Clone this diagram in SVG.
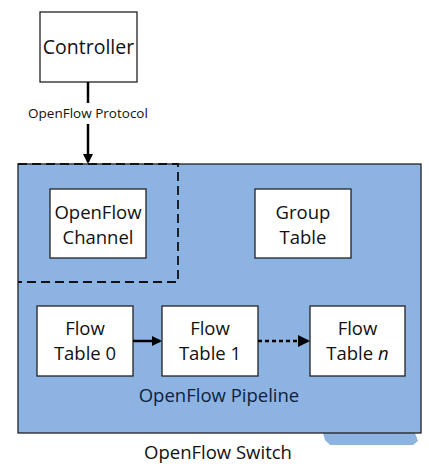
<svg xmlns="http://www.w3.org/2000/svg" width="429" height="466" viewBox="0 0 429 466">
<style>
.box{fill:#fff;stroke:#222;stroke-width:1.3}
.t{font-family:"Open Sans","Liberation Sans",sans-serif;font-size:18.5px;fill:#111;text-anchor:middle}
.conn{stroke:#000;stroke-width:2.5;fill:none}
</style>
<defs>
<marker id="ah" markerWidth="10" markerHeight="10" refX="8" refY="5" orient="auto" markerUnits="userSpaceOnUse">
<path d="M0,0 L10,5 L0,10 Z" fill="#000"/>
</marker>
<marker id="ahd" markerWidth="12" markerHeight="12" refX="10" refY="6" orient="auto" markerUnits="userSpaceOnUse">
<path d="M0,0 L12,6 L0,12 Z" fill="#000"/>
</marker>
</defs>
<g id="switch">
<path d="M323,433 L415,433 L418,441 L413,445 L330,445 L325,440 Z" fill="#8db3e2"/>
<rect x="18" y="164" width="403" height="269" fill="#8db3e2" stroke="#222" stroke-width="1.3"/>
<text class="t" x="218" y="459">OpenFlow Switch</text>
</g>
<g id="channel-region">
<path d="M18,164 H178 V282 H18" fill="none" stroke="#111" stroke-width="1.8" stroke-dasharray="9,5"/>
</g>
<g id="controller">
<rect class="box" x="40" y="12" width="97" height="70"/>
<text class="t" x="88.5" y="54" style="font-size:19.5px">Controller</text>
</g>
<g id="openflow-channel">
<rect class="box" x="50" y="189" width="96" height="69"/>
<text class="t" x="98" y="219">OpenFlow</text>
<text class="t" x="98" y="244">Channel</text>
</g>
<g id="group-table">
<rect class="box" x="255" y="189" width="96" height="69"/>
<text class="t" x="303" y="219">Group</text>
<text class="t" x="303" y="244">Table</text>
</g>
<g id="flow-table-0">
<rect class="box" x="37" y="306" width="96" height="70"/>
<text class="t" x="85" y="335">Flow</text>
<text class="t" x="85" y="360">Table 0</text>
</g>
<g id="flow-table-1">
<rect class="box" x="162" y="306" width="96" height="70"/>
<text class="t" x="210" y="335">Flow</text>
<text class="t" x="210" y="360">Table 1</text>
</g>
<g id="flow-table-n">
<rect class="box" x="310" y="306" width="95" height="70"/>
<text class="t" x="357.5" y="335">Flow</text>
<text class="t" x="357.5" y="360">Table <tspan font-style="italic">n</tspan></text>
</g>
<text class="t" x="219" y="402" style="fill:#0d1f3c">OpenFlow Pipeline</text>
<g id="connectors">
<line class="conn" x1="88" y1="82" x2="88" y2="103"/>
<line class="conn" x1="88" y1="124" x2="88" y2="162" marker-end="url(#ah)"/>
<text class="t" x="88" y="118" style="font-size:13.5px">OpenFlow Protocol</text>
<line class="conn" x1="133" y1="341" x2="160" y2="341" marker-end="url(#ah)"/>
<line class="conn" x1="258" y1="341" x2="308" y2="341" stroke-dasharray="4,3" marker-end="url(#ahd)"/>
</g>
</svg>
